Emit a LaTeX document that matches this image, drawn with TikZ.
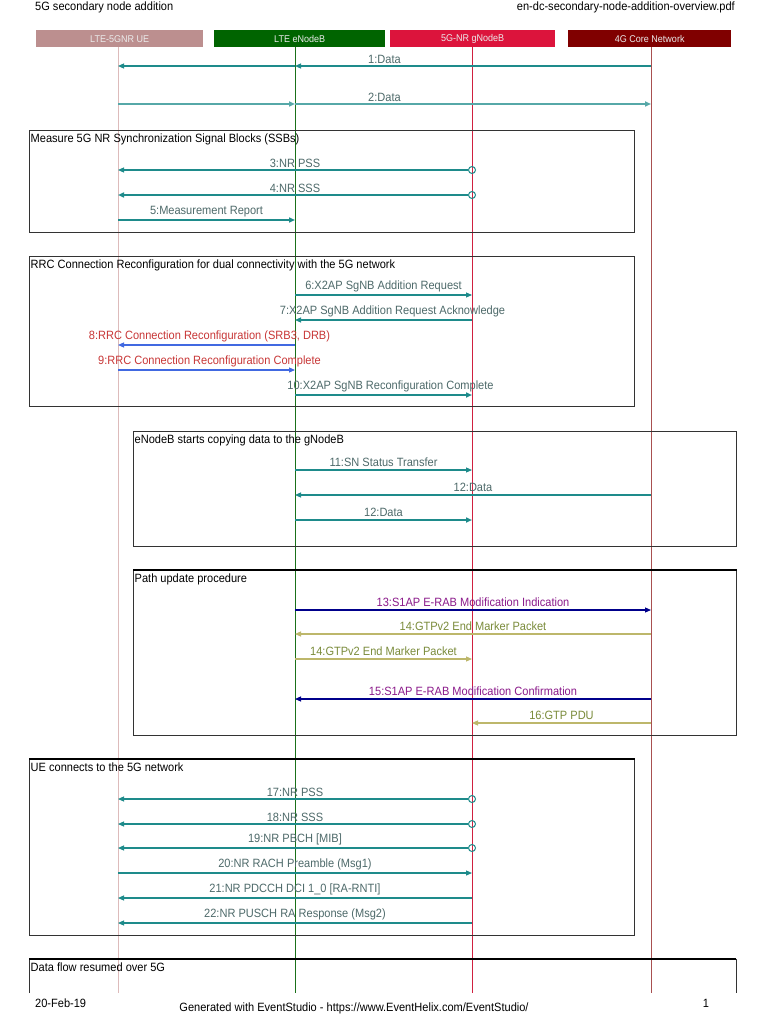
\documentclass[tikz,border=0pt]{standalone}
\usepackage{fontspec}
\setmainfont{Liberation Sans}[FakeStretch=0.92]
\usetikzlibrary{arrows.meta}
\definecolor{ueC}{HTML}{BC8F8F}
\definecolor{enbC}{HTML}{006400}
\definecolor{gnbC}{HTML}{DC143C}
\definecolor{coreC}{HTML}{800000}
\definecolor{ueL}{HTML}{DDBBBB}
\definecolor{enbL}{HTML}{1A701A}
\definecolor{gnbL}{HTML}{D02040}
\definecolor{coreL}{HTML}{A85050}
\definecolor{tealA}{HTML}{1E8B8B}
\definecolor{tealT}{HTML}{4E6A6A}
\definecolor{redT}{HTML}{C83737}
\definecolor{blueA}{HTML}{4169E1}
\definecolor{purT}{HTML}{8B1A8B}
\definecolor{navyA}{HTML}{00008B}
\definecolor{oliveT}{HTML}{7A8B3A}
\definecolor{khakiA}{HTML}{BDB76B}
\definecolor{frameC}{HTML}{333333}
\tikzset{
  x=1pt, y=-1pt,
  hdr/.style={draw=none, minimum width=#1, minimum height=17pt, inner sep=0pt, text=white!92!black, font=\fontsize{9.8}{10}\selectfont},
  life/.style={line width=0.8pt},
  msg/.style={draw=tealA, line width=1.1pt, -{Triangle[length=6pt,width=5pt]}},
  msgb/.style={draw=blueA, line width=1.1pt, -{Triangle[length=6pt,width=5pt]}},
  msgn/.style={draw=navyA, line width=1.1pt, -{Triangle[length=6pt,width=5pt]}},
  msgk/.style={draw=khakiA, line width=1.1pt, -{Triangle[length=6pt,width=5pt]}},
  lbl/.style={midway, above, inner sep=2.5pt, font=\fontsize{12}{13}\selectfont, text=tealT},
  lblr/.style={lbl, text=redT},
  lblp/.style={lbl, text=purT},
  lblo/.style={lbl, text=oliveT},
  frame/.style={draw=frameC, line width=1pt, anchor=north west, inner sep=0pt},
  ftitle/.style={anchor=north west, inner sep=1.5pt, yshift=-2.5pt, font=\fontsize{12}{13}\selectfont, text=black},
  src/.style={draw=tealA, line width=1pt, circle, minimum size=7pt, inner sep=0pt},
  plain/.style={inner sep=0pt, font=\fontsize{12}{13}\selectfont}
}
\begin{document}
\begin{tikzpicture}
\useasboundingbox (0,0) rectangle (768,1024);
\fill[white] (0,0) rectangle (768,1024);
% page header
\node[plain, anchor=west] (title) at (35,7) {5G secondary node addition};
\node[plain, anchor=east] (fname) at (735,7) {en-dc-secondary-node-addition-overview.pdf};
% lifeline headers
\node[hdr=167pt, fill=ueC, anchor=north west] (uehd) at (36,30) {LTE-5GNR UE};
\node[hdr=171pt, fill=enbC, anchor=north west] (enbhd) at (214,30) {LTE eNodeB};
\node[hdr=165pt, fill=gnbC, anchor=north west] (gnbhd) at (390,30) {5G-NR gNodeB};
\node[hdr=163pt, fill=coreC, anchor=north west] (corehd) at (568,30) {4G Core Network};
\coordinate (ue) at (118,47);
\coordinate (enb) at (295,47);
\coordinate (gnb) at (472,47);
\coordinate (core) at (651,47);
\coordinate (ueend) at (118,993);
\coordinate (enbend) at (295,993);
\coordinate (gnbend) at (472,993);
\coordinate (coreend) at (651,993);
\draw[life, draw=ueL] (ue) -- (ueend);
\draw[life, draw=enbL] (enb) -- (enbend);
\draw[life, draw=gnbL] (gnb) -- (gnbend);
\draw[life, draw=coreL] (core) -- (coreend);

% 1, 2
\draw[msg] (core |- 0,66) -- (enb |- 0,66);
\draw[msg] (enb |- 0,66) -- (ue |- 0,66);
\path (core |- 0,66) -- (ue |- 0,66) node[lbl] {1:Data};
\draw[msg, line width=1.5pt, draw=tealA!75] (ue |- 0,104) -- (enb |- 0,104);
\draw[msg, line width=1.5pt, draw=tealA!75] (enb |- 0,104) -- (core |- 0,104);
\path (ue |- 0,104) -- (core |- 0,104) node[lbl] {2:Data};

% frame 1
\node[frame, minimum width=605pt, minimum height=102pt] (f1) at (29,130) {};
\node[ftitle] (f1t) at (f1.north west) {Measure 5G NR Synchronization Signal Blocks (SSBs)};
\node[src] (s3) at (gnb |- 0,170) {};
\draw[msg] (s3.west) -- (ue |- 0,170);
\path (gnb |- 0,170) -- (ue |- 0,170) node[lbl] {3:NR PSS};
\node[src] (s4) at (gnb |- 0,195) {};
\draw[msg, line width=1.5pt] (s4.west) -- (ue |- 0,195);
\path (gnb |- 0,195) -- (ue |- 0,195) node[lbl] {4:NR SSS};
\draw[msg, line width=1.5pt] (ue |- 0,220) -- (enb |- 0,220) node[lbl] {5:Measurement Report};

% frame 2
\node[frame, minimum width=605pt, minimum height=150pt] (f2) at (29,256) {};
\node[ftitle] (f2t) at (f2.north west) {RRC Connection Reconfiguration for dual connectivity with the 5G network};
\draw[msg] (enb |- 0,295) -- (gnb |- 0,295) node[lbl] {6:X2AP SgNB Addition Request};
\draw[msg] (gnb |- 0,320) -- (enb |- 0,320) node[lbl, xshift=9pt] {7:X2AP SgNB Addition Request Acknowledge};
\draw[msgb] (enb |- 0,345) -- (ue |- 0,345) node[lblr, xshift=3pt] {8:RRC Connection Reconfiguration (SRB3, DRB)};
\draw[msgb] (ue |- 0,370) -- (enb |- 0,370) node[lblr, xshift=3pt] {9:RRC Connection Reconfiguration Complete};
\draw[msg, line width=1.5pt] (enb |- 0,395) -- (gnb |- 0,395) node[lbl, xshift=7pt] {10:X2AP SgNB Reconfiguration Complete};

% frame 3
\node[frame, minimum width=603pt, minimum height=115pt] (f3) at (133,431) {};
\node[ftitle] (f3t) at (f3.north west) {eNodeB starts copying data to the gNodeB};
\draw[msg] (enb |- 0,470) -- (gnb |- 0,470) node[lbl] {11:SN Status Transfer};
\draw[msg] (core |- 0,495) -- (enb |- 0,495) node[lbl] {12:Data};
\draw[msg, line width=1.5pt] (enb |- 0,520) -- (gnb |- 0,520) node[lbl] {12:Data};

% frame 4
\node[frame, minimum width=603pt, minimum height=165pt] (f4) at (133,570) {};
\draw[line width=2pt, draw=black] (f4.north west) -- (f4.north east);
\node[ftitle] (f4t) at (f4.north west) {Path update procedure};
\draw[msgn] (enb |- 0,610) -- (core |- 0,610) node[lblp] {13:S1AP E-RAB Modification Indication};
\draw[msgk] (core |- 0,634) -- (enb |- 0,634) node[lblo] {14:GTPv2 End Marker Packet};
\draw[msgk] (enb |- 0,659) -- (gnb |- 0,659) node[lblo] {14:GTPv2 End Marker Packet};
\draw[msgn] (core |- 0,699) -- (enb |- 0,699) node[lblp] {15:S1AP E-RAB Modification Confirmation};
\draw[msgk] (core |- 0,723) -- (gnb |- 0,723) node[lblo] {16:GTP PDU};

% frame 5
\node[frame, minimum width=605pt, minimum height=176pt] (f5) at (29,759) {};
\draw[line width=2pt, draw=black] (f5.north west) -- (f5.north east);
\node[ftitle] (f5t) at (f5.north west) {UE connects to the 5G network};
\node[src] (s17) at (gnb |- 0,799) {};
\draw[msg] (s17.west) -- (ue |- 0,799);
\path (gnb |- 0,799) -- (ue |- 0,799) node[lbl] {17:NR PSS};
\node[src] (s18) at (gnb |- 0,824) {};
\draw[msg] (s18.west) -- (ue |- 0,824);
\path (gnb |- 0,824) -- (ue |- 0,824) node[lbl] {18:NR SSS};
\node[src] (s19) at (gnb |- 0,848) {};
\draw[msg] (s19.west) -- (ue |- 0,848);
\path (gnb |- 0,848) -- (ue |- 0,848) node[lbl] {19:NR PBCH [MIB]};
\draw[msg] (ue |- 0,873) -- (gnb |- 0,873) node[lbl] {20:NR RACH Preamble (Msg1)};
\draw[msg] (gnb |- 0,898) -- (ue |- 0,898) node[lbl] {21:NR PDCCH DCI 1\_0 [RA-RNTI]};
\draw[msg] (gnb |- 0,923) -- (ue |- 0,923) node[lbl] {22:NR PUSCH RA Response (Msg2)};

% frame 6 (continues on next page)
\coordinate (f6a) at (29,993);
\coordinate (f6b) at (29,959);
\coordinate (f6c) at (736,959);
\coordinate (f6d) at (736,993);
\draw[draw=frameC, line width=1pt] (f6a) -- (f6b) -- (f6c) -- (f6d);
\draw[line width=2pt, draw=black] (f6b) -- (f6c);
\node[ftitle] (f6t) at (f6b) {Data flow resumed over 5G};

% footer
\node[plain, anchor=west] (date) at (35,1003) {20-Feb-19};
\node[plain] (gen) at (354,1008) {Generated with EventStudio - https://www.EventHelix.com/EventStudio/};
\node[plain] (page) at (706,1003) {1};
\end{tikzpicture}
\end{document}
